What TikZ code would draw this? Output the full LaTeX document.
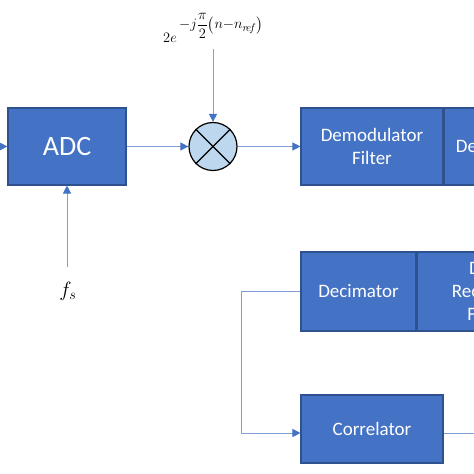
\documentclass[tikz,border=0pt]{standalone}
\usepackage{fontspec}
\usepackage{amsmath}
\setmainfont{Carlito}
\usetikzlibrary{arrows.meta,calc}

\definecolor{boxblue}{HTML}{4472C4}
\definecolor{boxedge}{HTML}{2F528F}
\definecolor{wireblue}{HTML}{7F9ED6}
\definecolor{mixfill}{HTML}{BDD7EE}

\tikzset{
  block/.style={draw=boxedge,line width=1.1pt,fill=boxblue,text=white,
    align=center,inner sep=0pt,font=\fontsize{19}{23}\selectfont},
  wire/.style={draw=wireblue,line width=0.9pt},
  sig/.style={wire,-{Triangle[length=8pt,width=8pt,fill=boxblue,color=boxblue]}}
}

\begin{document}
\begin{tikzpicture}[x=1pt,y=1pt]

\useasboundingbox (0,0) rectangle (474,474);
\clip (0,0) rectangle (474,474);

% ---------- Top chain ----------
\node[block,minimum width=118pt,minimum height=77pt,font=\fontsize{28}{32}\selectfont]
  (adc) at (67,327.5) {ADC};
\node[circle,draw=black,line width=1.2pt,fill=mixfill,minimum size=48pt,inner sep=0pt]
  (mix) at (213,327.5) {};
\draw[line width=1.2pt] (mix.north west) -- (mix.south east);
\draw[line width=1.2pt] (mix.north east) -- (mix.south west);
\node[block,minimum width=142pt,minimum height=77pt] (demod) at (372,327.5)
  {Demodulator\\Filter};
\node[block,minimum width=104pt,minimum height=77pt,anchor=west] (dec1) at (demod.east)
  {Decimator};

% inputs
\coordinate (in) at (0,327.5);
\coordinate (fsend) at (67,207);
\coordinate (lotop) at (213,425);
\node[font=\fontsize{20}{24}\selectfont] (fs) at (68,183) {$f_s$};
\node[font=\fontsize{15}{18}\selectfont,anchor=base west,inner sep=0pt] (lo) at (163,431)
  {$2e\,\raisebox{14pt}{$-j\dfrac{\pi}{2}\bigl(n{-}n_{r\!e\!f}\bigr)$}$};

\draw[sig] (in) -- (adc.west);
\draw[sig] (fsend) -- (adc.south);
\draw[sig] (lotop) -- (mix.north);
\draw[sig] (adc.east) -- (mix.west);
\draw[sig] (mix.east) -- (demod.west);

% ---------- Lower chain ----------
\node[block,minimum width=115pt,minimum height=79pt] (dec2) at (358.5,182.5) {Decimator};
\node[block,minimum width=140pt,minimum height=79pt,anchor=west] (drf) at (dec2.east)
  {Data\\Recovery\\Filter};
\node[block,minimum width=142pt,minimum height=68pt] (corr) at (372,45) {Correlator};

\coordinate (bend) at (241,182.5);
\coordinate (out) at (474,41);
\draw[sig] (dec2.west) -- (bend) |- ($(corr.west)+(0,-4)$);
\draw[wire] ($(corr.east)+(0,-4)$) -- (out);

\end{tikzpicture}
\end{document}
